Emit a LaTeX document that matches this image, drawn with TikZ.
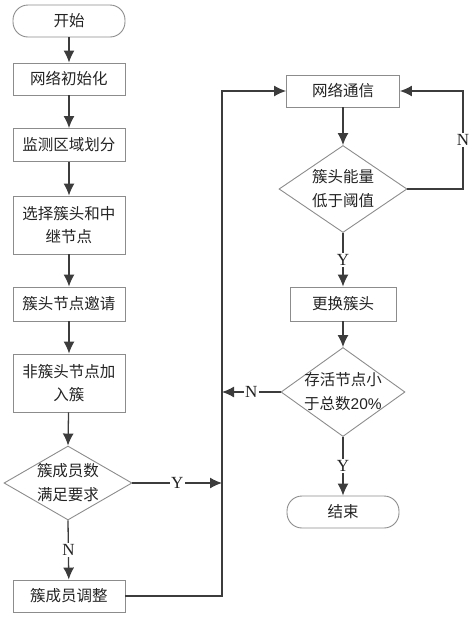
\documentclass[tikz,border=0pt]{standalone}
\usepackage{fontspec}
\setmainfont{Liberation Serif}
\newfontfamily\cjk{Noto Sans CJK SC}
\newfontfamily\lat{Liberation Sans}
\usepackage{tikz}
\usetikzlibrary{arrows.meta}
\usetikzlibrary{shapes.geometric}
\definecolor{boxgray}{RGB}{140,140,140}
\definecolor{linegray}{RGB}{60,60,60}
\definecolor{textgray}{RGB}{35,35,35}
\tikzset{box/.style = {draw=boxgray, line width=0.9pt, minimum width=112pt, minimum height=32pt,
                       inner sep=0, align=center, text=textgray,
                       font=\cjk\fontsize{15.5}{23}\selectfont}}
\tikzset{term/.style = {box, rounded corners=15pt}}
\tikzset{decision/.style = {diamond, draw=boxgray, line width=0.9pt, inner sep=0}}
\tikzset{txt/.style = {align=center, text=textgray, font=\cjk\fontsize{15.5}{24}\selectfont}}
\tikzset{flow/.style = {draw=linegray, line width=1.3pt, -{Latex[length=12pt,width=11pt]}}}
\tikzset{yn/.style = {fill=white, inner sep=1.5pt, text=textgray, font=\fontsize{17}{17}\selectfont}}

\begin{document}
\begin{tikzpicture}[x=1pt, y=-1pt]
      \useasboundingbox (0, 0) rectangle (474, 622);

      \node (start) at (69, 21) [term] {开始};
      \node (init) at (69, 79) [box] {网络初始化};
      \node (divide) at (69, 145) [box, minimum height=33pt] {监测区域划分};
      \node (select) at (69, 225) [box, minimum height=58pt] {选择簇头和中\\继节点};
      \node (invite) at (69, 304) [box, minimum height=34pt] {簇头节点邀请};
      \node (join) at (69, 383) [box, minimum height=58pt] {非簇头节点加\\入簇};
      \node (d1) at (68, 483) [decision, minimum width=128pt, minimum height=74pt] {};
      \node (d1t) at (68, 483) [txt] {簇成员数\\满足要求};
      \node (adjust) at (69, 596) [box] {簇成员调整};

      \node (comm) at (343, 91) [box, minimum width=113pt] {网络通信};
      \node (d2) at (343, 189) [decision, minimum width=128pt, minimum height=87pt] {};
      \node (d2t) at (343, 189) [txt] {簇头能量\\低于阈值};
      \node (change) at (343, 304) [box, minimum width=106pt, minimum height=34pt] {更换簇头};
      \node (d3) at (343, 392) [decision, minimum width=124pt, minimum height=89pt] {};
      \node (d3t) at (343, 392) [txt] {存活节点小\\于总数{\lat 20\%}};
      \node (stop) at (343, 512) [term] {结束};

      \coordinate (busy) at (222, 483);
      \coordinate (busn) at (222, 392);
      \coordinate (busb) at (222, 596);
      \coordinate (loop) at (463, 189);

      \draw [flow] (start) -- (init);
      \draw [flow] (init) -- (divide);
      \draw [flow] (divide) -- (select);
      \draw [flow] (select) -- (invite);
      \draw [flow] (invite) -- (join);
      \draw [flow] (join) -- (d1.north);
      \draw [flow] (d1.south) -- (adjust) node [pos=0.5, yn] {N};
      \draw [flow] (d1.east) -- (busy) node [pos=0.5, yn] {Y};
      \draw [flow] (adjust.east) -- (busb) |- (comm.west);

      \draw [flow] (comm) -- (d2.north);
      \draw [flow] (d2.east) -- (loop) |- (comm.east) node [pos=0.25, yn] {N};
      \draw [flow] (d2.south) -- (change) node [pos=0.5, yn] {Y};
      \draw [flow] (change) -- (d3.north);
      \draw [flow] (d3.west) -- (busn) node [pos=0.5, yn] {N};
      \draw [flow] (d3.south) -- (stop) node [pos=0.5, yn] {Y};
    \end{tikzpicture}
\end{document}
